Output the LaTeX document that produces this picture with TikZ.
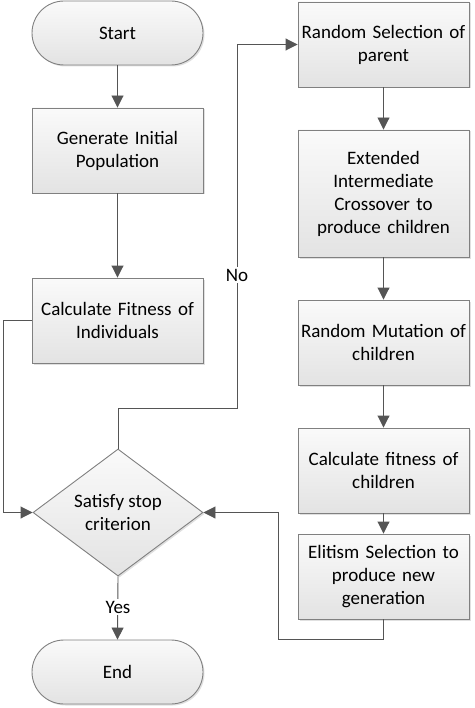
\documentclass[tikz,border=0pt]{standalone}
\usepackage{fontspec}
\setmainfont{Carlito}
\usetikzlibrary{arrows.meta,shapes.geometric,shadows}
\definecolor{linegray}{HTML}{555555}
\definecolor{bordergray}{HTML}{808080}
\tikzset{
  shapebase/.style={draw=bordergray, line width=0.9pt, top color=gray!4, bottom color=gray!22,
    drop shadow={shadow xshift=1.5pt, shadow yshift=-1.5pt, fill=black, opacity=0.12},
    align=center, inner sep=2pt, font=\fontsize{19}{23}\selectfont},
  procbox/.style={shapebase, rectangle, minimum width=171pt, text width=165pt},
  termbox/.style={shapebase, rectangle, rounded corners=32pt, minimum width=171pt, minimum height=64pt},
  decbox/.style={shapebase, diamond, minimum width=170pt, minimum height=127pt, inner sep=0pt},
  arr/.style={draw=linegray, line width=0.9pt, -{Triangle[length=12pt,width=12pt]}, fill=none},
  conn/.style={draw=linegray, line width=0.9pt},
  lbl/.style={fill=white, inner sep=1.5pt, font=\fontsize{19}{23}\selectfont}
}
\begin{document}
\begin{tikzpicture}[x=1pt,y=-1pt]
\useasboundingbox (0,0) rectangle (474,708);
% left column
\node[termbox] (start) at (117.5,33) {Start};
\node[procbox, minimum height=85pt] (gen) at (117.5,150.5) {Generate Initial\\Population};
\node[procbox, minimum height=85pt] (calc) at (117.5,320.5) {Calculate Fitness of\\Individuals};
\node[decbox, label={[align=center,font=\fontsize{19}{23}\selectfont]center:Satisfy stop\\criterion}] (dia) at (118,512.5) {};
\node[termbox] (end) at (117.5,672) {End};
% right column
\node[procbox, minimum height=85pt] (rs) at (383.5,44.5) {Random Selection of\\parent};
\node[procbox, minimum height=127pt] (ex) at (383.5,193.5) {Extended\\Intermediate\\Crossover to\\produce children};
\node[procbox, minimum height=85pt] (rm) at (383.5,342.5) {Random Mutation of\\children};
\node[procbox, minimum height=85pt] (cf) at (383.5,470.5) {Calculate fitness of\\children};
\node[procbox, minimum height=85pt] (el) at (383.5,576.5) {Elitism Selection to\\produce new\\generation};
% helper coordinates
\coordinate (lx) at (3,0);
\coordinate (c1) at (237,408);
\coordinate (c2) at (278,639);
% connectors
\draw[arr] (start) -- (gen);
\draw[arr] (gen) -- (calc);
\draw[arr] (calc.west) -- (calc.west -| lx) |- (dia.west);
\draw[arr] (dia.north) |- (c1) |- (rs.west);
\draw[arr] (dia.south) -- (end.north);
\draw[arr] (rs) -- (ex);
\draw[arr] (ex) -- (rm);
\draw[arr] (rm) -- (cf);
\draw[arr] (cf) -- (el);
\draw[arr] (el.south) |- (c2) |- (dia.east);
% labels
\node[lbl] (no) at (237,275) {No};
\node[lbl] (yes) at (118,607) {Yes};
\end{tikzpicture}
\end{document}
